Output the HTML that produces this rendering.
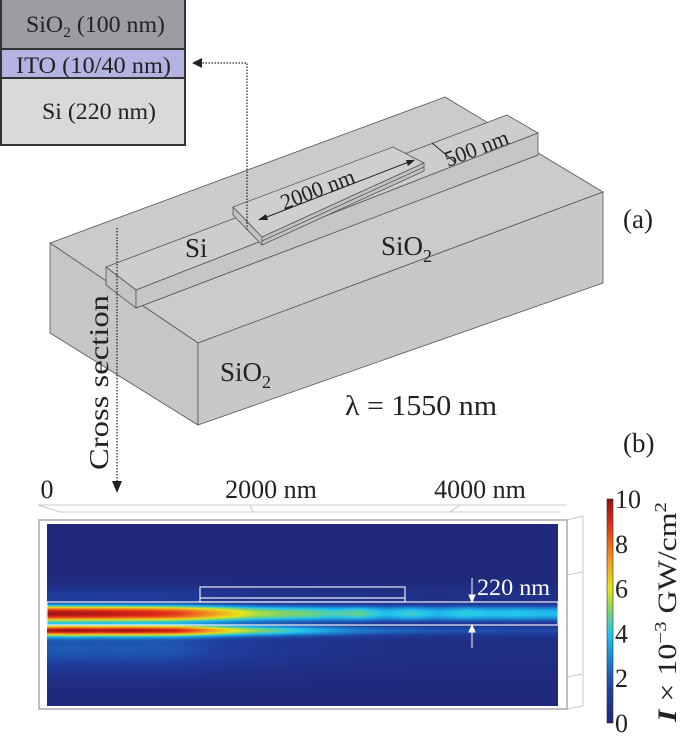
<!DOCTYPE html>
<html><head><meta charset="utf-8"><style>
html,body{margin:0;padding:0;background:#fff;}
#wrap{position:relative;width:685px;height:741px;overflow:hidden;font-family:"Liberation Serif",serif;}
svg{position:absolute;left:0;top:0;}
#heat{position:absolute;left:47px;top:524px;}
</style></head><body>
<div id="wrap">
<canvas id="heat" width="511" height="182"></canvas>
<svg id="svg" width="685" height="741" viewBox="0 0 685 741" font-family="Liberation Serif, serif">
 <g>
  <rect x="1" y="-1" width="184" height="50" fill="#9c9ca2" stroke="#333" stroke-width="2"/>
  <rect x="1" y="49" width="184" height="29" fill="#b4b4e2" stroke="#333" stroke-width="2"/>
  <rect x="1" y="78" width="184" height="67" fill="#d9d9d9" stroke="#333" stroke-width="2"/>
  <text x="26" y="32" font-size="23" fill="#222" textLength="139" lengthAdjust="spacingAndGlyphs">SiO<tspan font-size="15" dy="5">2</tspan><tspan dy="-5"> (100 nm)</tspan></text>
  <text x="16" y="73" font-size="23" fill="#222" textLength="155" lengthAdjust="spacingAndGlyphs">ITO (10/40 nm)</text>
  <text x="42" y="119" font-size="23" fill="#222" textLength="114" lengthAdjust="spacingAndGlyphs">Si (220 nm)</text>
 </g>
 <g stroke="#555" stroke-width="0.8" stroke-linejoin="round">
  <polygon points="50,243 445,97 603,192 198,343" fill="#cbcbcb"/>
  <polygon points="50,243 198,343 198,425 50,333" fill="#c6c6c6"/>
  <polygon points="198,343 603,192 603,283 198,425" fill="#c8c8c8"/>
  <line x1="136" y1="308" x2="538" y2="155"/>
  <polygon points="106,267 507,115 538,133 136,290" fill="#cdcdcd"/>
  <polygon points="106,267 136,290 136,308 106,285" fill="#c4c4c4"/>
  <polygon points="136,290 538,133 538,155 136,308" fill="#c6c6c6"/>
  <polygon points="233,207 393,147 424,163 262,237" fill="#cfcfcf"/>
  <polygon points="233,207 262,237 262,245 233,215" fill="#c2c2c2"/>
  <polygon points="262,237 424,163 424,171 262,245" fill="#c2c2c2"/>
  <line x1="262" y1="241" x2="424" y2="167"/>
 </g>
 <g>
  <line x1="259" y1="220" x2="414" y2="160" stroke="#222" stroke-width="1"/>
  <polygon points="258,220 266,214 268,220" fill="#222"/>
  <polygon points="415,160 406,160 408,166" fill="#222"/>
  <text x="0" y="0" font-size="22" fill="#222" transform="translate(284,210) rotate(-21)">2000 nm</text>
 </g>
 <g>
  <line x1="432" y1="143" x2="456" y2="163" stroke="#222" stroke-width="1"/>
  <text x="0" y="0" font-size="22" fill="#222" transform="translate(448,167) rotate(-21)">500 nm</text>
 </g>
 <text x="185" y="257" font-size="27" fill="#222">Si</text>
 <text x="381" y="255" font-size="27" fill="#222">SiO<tspan font-size="18" dy="7">2</tspan></text>
 <text x="220" y="381" font-size="27" fill="#222">SiO<tspan font-size="18" dy="7">2</tspan></text>
 <text x="345" y="415" font-size="28" fill="#222" textLength="152" lengthAdjust="spacingAndGlyphs">λ = 1550 nm</text>
 <text x="623" y="228" font-size="27" fill="#222">(a)</text>
 <text x="623" y="452" font-size="27" fill="#222">(b)</text>
 <g fill="none" stroke="#222" stroke-width="1.2" stroke-dasharray="1.5,1.5">
  <polyline points="247,230 247,63 198,63"/>
 </g>
 <polygon points="192,63 202,58 202,68" fill="#222"/>
 <line x1="117" y1="228" x2="117" y2="484" stroke="#222" stroke-width="1.2" stroke-dasharray="1.5,1.5"/>
 <polygon points="117,493 112,481 122,481" fill="#222"/>
 <text x="0" y="0" font-size="27" fill="#222" transform="translate(108,470) rotate(-90)" textLength="175" lengthAdjust="spacingAndGlyphs">Cross section</text>
 <g id="xaxis"></g>
 <g stroke="#bbb" stroke-width="0.8" fill="none">
  <line x1="38" y1="505" x2="567" y2="505"/>
  <line x1="38" y1="505" x2="60" y2="512"/>
  <line x1="60" y1="512" x2="560" y2="512"/>
  <line x1="250" y1="505" x2="253" y2="512"/>
  <line x1="450" y1="512" x2="460" y2="505"/>
  <rect x="39" y="520" width="528" height="189" stroke="#aaa" stroke-width="1.5"/>
  <line x1="567" y1="520" x2="583" y2="516"/>
  <line x1="583" y1="516" x2="583" y2="706"/>
  <line x1="567" y1="709" x2="583" y2="706"/>
  <line x1="567" y1="575" x2="583" y2="572"/>
  <line x1="567" y1="677" x2="583" y2="674"/>
 </g>
 <g stroke="#e8e8f4" stroke-width="1.2" fill="none">
  <line x1="47" y1="602" x2="558" y2="602"/>
  <line x1="47" y1="625" x2="558" y2="625"/>
  <line x1="47" y1="602" x2="47" y2="625"/>
  <line x1="558" y1="602" x2="558" y2="625"/>
  <rect x="200" y="587" width="205" height="15"/>
  <line x1="200" y1="598" x2="405" y2="598"/>
 </g>
 <g stroke="#fff" stroke-width="1">
  <line x1="472" y1="578" x2="472" y2="600"/>
  <polygon points="472,602 469,595 475,595" fill="#fff"/>
  <line x1="472" y1="627" x2="472" y2="648"/>
  <polygon points="472,625 469,632 475,632" fill="#fff"/>
 </g>
 <text x="477" y="595" font-size="23" fill="#fff" textLength="73" lengthAdjust="spacingAndGlyphs">220 nm</text>
 <defs><linearGradient id="jet" x1="0" y1="1" x2="0" y2="0"></linearGradient></defs>
 <rect x="607" y="499" width="6" height="224" fill="url(#jet)" stroke="#333" stroke-width="0.6"/>
 <g id="cbticks"></g>
 <text x="0" y="0" font-size="26" fill="#222" transform="translate(676,722) rotate(-90)" textLength="220" lengthAdjust="spacingAndGlyphs"><tspan font-style="italic" font-weight="bold">I</tspan> × 10<tspan font-size="17" dy="-10">−3</tspan><tspan dy="10"> GW/cm</tspan><tspan font-size="17" dy="-10">2</tspan></text>
</svg>
</div>
<script>
// ---- data ----
const positionsNm = [0,250,500,750,1000,1250,1500,1750,2000,2250,2500,2750,3000,3250,3500,3750,4000,4250,4500,4750];
const coreIntensity = [9.3,9.2,9.1,8.9,8.7,8.3,7.3,6.2,5.2,4.8,4.6,4.2,4.5,3.6,4.1,3.5,4.0,3.7,3.8,3.6];
const lowerIntensity = [8.4,8.7,8.4,8.6,8.4,8.1,6.8,5.4,4.5,3.9,3.3,2.8,2.3,2.0,1.8,1.6,1.5,1.5,1.4,1.4];
const xTickValues = [0,2000,4000];
const xTickLabels = ["0","2000 nm","4000 nm"];
const cbTickValues = [0,2,4,6,8,10];
const colorStops = [[0,"#202778"],[1.5,"#1f3fa0"],[3,"#1c8ad6"],[4,"#23c8f0"],[5,"#7fd36a"],[6,"#e8e61e"],[7.5,"#f08a20"],[9,"#e02818"],[10,"#8a1010"]];

// ---- scales ----
const X0 = 47, HW = 511, NM_MAX = 4900;
const xScale = nm => X0 + nm / NM_MAX * HW;
const labelScale = nm => 62 + nm * 0.1045;
const cbScale = v => 723 - v / 10 * 224;
const NS = "http://www.w3.org/2000/svg";

const xg = document.getElementById('xaxis');
xTickValues.forEach((v,i)=>{
  const t = document.createElementNS(NS,'text');
  
  
  t.setAttribute('x', i===0 ? 47 : labelScale(v));
  t.setAttribute('y', 498);
  t.setAttribute('font-size','26');
  t.setAttribute('text-anchor','middle');
  t.setAttribute('fill','#222');
  t.textContent = xTickLabels[i];
  xg.appendChild(t);
});

const grad = document.getElementById('jet');
colorStops.forEach(s=>{
  const st = document.createElementNS(NS,'stop');
  st.setAttribute('offset', (s[0]/10*100)+'%');
  st.setAttribute('stop-color', s[1]);
  grad.appendChild(st);
});
const cg = document.getElementById('cbticks');
cbTickValues.forEach(v=>{
  const t = document.createElementNS(NS,'text');
  
  
  t.setAttribute('x', 615);
  t.setAttribute('y', cbScale(v)+9);
  t.setAttribute('font-size','26');
  t.setAttribute('fill','#222');
  t.textContent = String(v);
  cg.appendChild(t);
});

const rgbStops = colorStops.map(s=>[s[0], parseInt(s[1].slice(1,3),16), parseInt(s[1].slice(3,5),16), parseInt(s[1].slice(5,7),16)]);
function cmap(v){
  v = Math.max(0, Math.min(10, v));
  for (let i=1;i<rgbStops.length;i++){
    if (v <= rgbStops[i][0]){
      const a=rgbStops[i-1], b=rgbStops[i], f=(v-a[0])/(b[0]-a[0]);
      return [a[1]+(b[1]-a[1])*f, a[2]+(b[2]-a[2])*f, a[3]+(b[3]-a[3])*f];
    }
  }
  return rgbStops[rgbStops.length-1].slice(1);
}
function sample(arr, nm){
  const step = positionsNm[1]-positionsNm[0];
  let i = Math.floor(nm/step);
  if (i >= arr.length-1) return arr[arr.length-1];
  const f = nm/step - i;
  return arr[i]*(1-f) + arr[i+1]*f;
}
const cv = document.getElementById('heat');
const ctx = cv.getContext('2d');
const img = ctx.createImageData(cv.width, cv.height);
const TOP = 524;
for (let px=0; px<cv.width; px++){
  const nm = (px + 0.5) / HW * NM_MAX;
  const c = sample(coreIntensity, nm), l = sample(lowerIntensity, nm);
  for (let py=0; py<cv.height; py++){
    const y = TOP + py;
    const dc = (y-613)/8, dl = (y-630)/5.5, dd = (y-648)/24, du = (y-595)/10;
    let v = c*Math.exp(-Math.pow(Math.abs(dc),2.6)) + l*Math.exp(-dl*dl) + 0.22*l*Math.exp(-dd*dd) + 0.12*c*Math.exp(-du*du) + 0.15;
    const col = cmap(v);
    const k = (py*cv.width + px)*4;
    img.data[k]=col[0]; img.data[k+1]=col[1]; img.data[k+2]=col[2]; img.data[k+3]=255;
  }
}
ctx.putImageData(img,0,0);
</script>
</body></html>
